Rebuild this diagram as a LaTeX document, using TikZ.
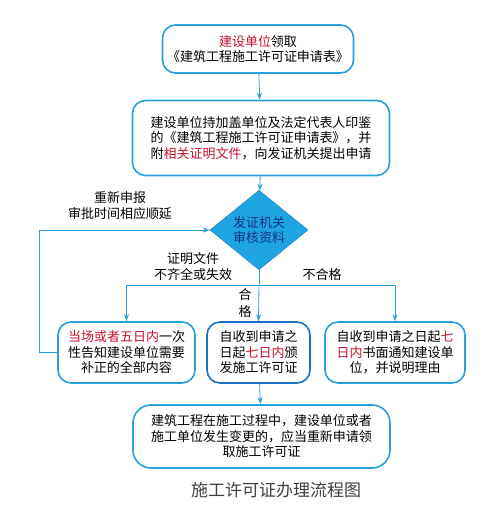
\documentclass[tikz,border=0pt]{standalone}
\usepackage{fontspec}
\setmainfont{Noto Sans CJK SC}
\usetikzlibrary{shapes.geometric,arrows.meta}
\definecolor{boxblue}{RGB}{40,160,220}
\definecolor{midblue}{RGB}{25,115,195}
\definecolor{hired}{RGB}{200,20,45}
\definecolor{diafill}{RGB}{30,165,225}
\definecolor{diatext}{RGB}{20,50,130}
\newcommand{\hl}[1]{\textcolor{hired}{#1}}

\begin{document}
\begin{tikzpicture}[x=1pt,y=-1pt,
    box/.style={draw=boxblue, line width=1.6pt, rounded corners=13pt, fill=white,
      align=center, inner sep=0pt, font=\fontsize{13}{15.5}\selectfont},
    link/.style={draw=boxblue, line width=0.8pt},
    flow/.style={link, -{Stealth[length=7pt,width=5pt]}},
    note/.style={align=center, font=\fontsize{13}{16}\selectfont}]
    \useasboundingbox (0,0) rectangle (500,512);
    % boxes
    \node[box, minimum width=191, minimum height=48] (fetch) at (258,49)
        {\hl{建设单位}领取\\《建筑工程施工许可证申请表》};
    \node[box, minimum width=257, minimum height=75] (submit) at (261,138)
        {建设单位持加盖单位及法定代表人印鉴\\的《建筑工程施工许可证申请表》，并\\附\hl{相关证明文件}，向发证机关提出申请};
    \node[diamond, draw=midblue, fill=diafill, inner sep=0pt, minimum width=98, minimum height=74,
        align=center, text=diatext, font=\fontsize{13}{15.5}\selectfont] (check) at (259,230)
        {发证机关\\审核资料};
    \node[box, minimum width=137, minimum height=61] (redo) at (126.5,352.5)
        {\hl{当场或者五日内}一次\\性告知建设单位需要\\补正的全部内容};
    \node[box, draw=midblue, minimum width=103, minimum height=61] (grant) at (258.5,352.5)
        {自收到申请之\\日起\hl{七日内}颁\\发施工许可证};
    \node[box, minimum width=140, minimum height=61] (deny) at (395,352.5)
        {自收到申请之日起\hl{七}\\\hl{日内}书面通知建设单\\位，并说明理由};
    \node[box, rounded corners=18pt, minimum width=257, minimum height=63] (change) at (261.5,436.5)
        {建筑工程在施工过程中，建设单位或者\\施工单位发生变更的，应当重新申请领\\取施工许可证};
    % connectors
    \coordinate (split) at (259,285);
    \draw[flow] (fetch) -- (submit);
    \draw[flow] (submit) -- (check);
    \draw[link] (check.south) -- (split);
    \draw[link] (redo.north |- split) -- (deny.north |- split);
    \draw[flow] (redo.north |- split) -- (redo.north);
    \draw[flow] (split) -- (grant.north);
    \draw[flow] (deny.north |- split) -- (deny.north);
    \draw[flow] (redo.west) -- ++(-18,0) |- (check.west);
    \draw[flow] (grant) -- (change);
    % labels
    \node[note] (resend) at (120,206) {重新申报\\审批时间相应顺延};
    \node[note] (lack) at (193,267) {证明文件\\不齐全或失效};
    \node[note] (fail) at (322,275) {不合格};
    \node[note, font=\fontsize{13}{17}\selectfont] (pass) at (245,303) {合\\格};
    \node[text=black!75, font=\fontsize{17}{20}\selectfont] (title) at (276,490) {施工许可证办理流程图};
\end{tikzpicture}
\end{document}
